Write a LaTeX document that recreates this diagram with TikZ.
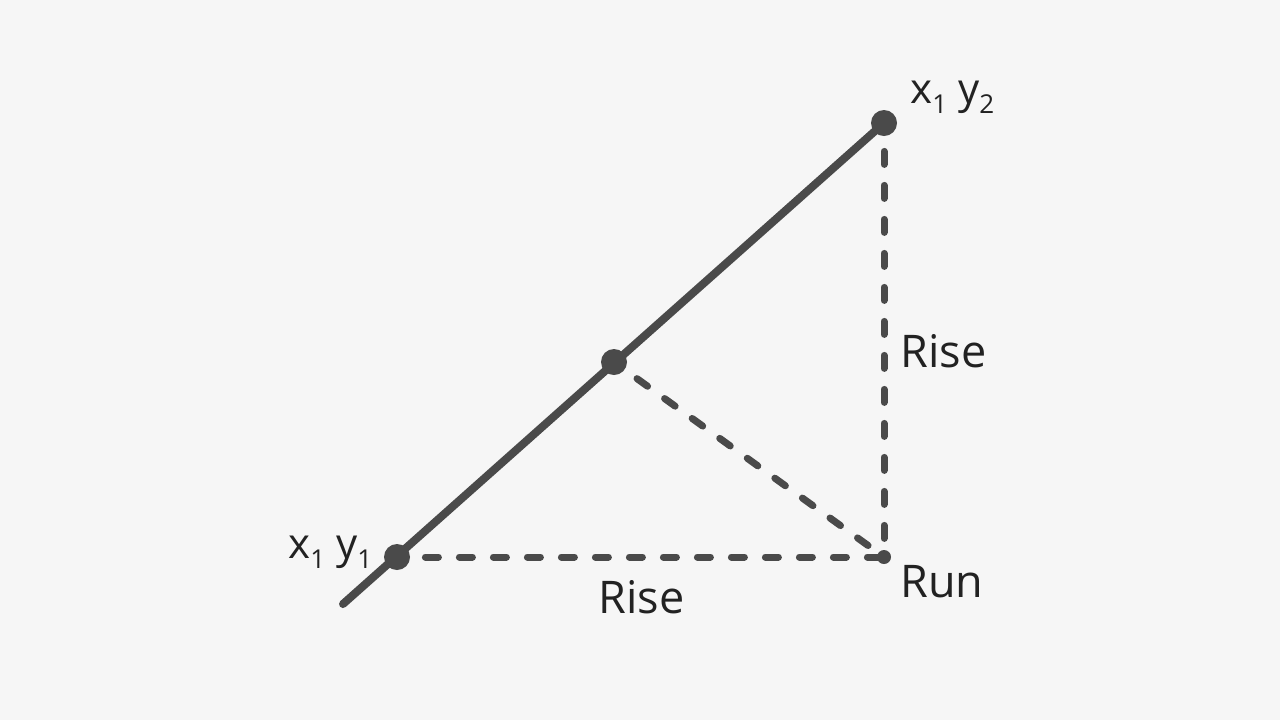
\documentclass[tikz,border=0pt]{standalone}
\usepackage{fontspec}
\setmainfont{Open Sans}
\usetikzlibrary{calc}
\definecolor{linegray}{HTML}{4A4A4A}
\definecolor{bggray}{HTML}{F6F6F6}
\definecolor{textdark}{HTML}{222222}
\newcommand{\lowidx}[1]{\raisebox{-5pt}{\fontsize{13}{15}\selectfont #1}}

\begin{document}
\begin{tikzpicture}[x=0.5pt,y=-0.5pt,
    dot/.style={circle,fill=linegray,inner sep=0pt,minimum size=13pt},
    guide/.style={linegray,line width=3.5pt,line cap=round,dash pattern=on 6.5pt off 10.5pt,dash phase=9.5pt},
    lbl/.style={text=textdark,font=\fontsize{21}{25}\selectfont,inner sep=0pt,anchor=base west}]
    % Background
    \fill[bggray] (0,0) rectangle (1280,720);
    \useasboundingbox (0,0) rectangle (1280,720);

    % Points
    \coordinate (start) at (343,604);
    \node[dot] (p1) at (397,557) {};
    \node[dot] (mid) at (614,362) {};
    \node[dot] (p2) at (884,123) {};
    \coordinate (corner) at (884,557);

    % Line
    \draw[linegray,line width=4pt,line cap=round] (start) -- (p2.center);

    % Dashed triangle
    \draw[guide] (p1) -- (corner);
    \draw[guide] (p2) -- (corner);
    \draw[guide] (mid) -- (corner);
    \fill[linegray] (corner) circle (7);

    % Labels
    \node[lbl] (lp1) at (288,558) {x\lowidx{1} y\lowidx{1}};
    \node[lbl] (lp2) at (910,103) {x\lowidx{1} y\lowidx{2}};
    \node[lbl,font=\fontsize{22.5}{27}\selectfont] (rise) at (900,367) {Rise};
    \node[lbl,font=\fontsize{22.5}{27}\selectfont] (run) at (900,597) {Run};
    \node[lbl,font=\fontsize{22.5}{27}\selectfont] (rise2) at (598,613) {Rise};

\end{tikzpicture}
\end{document}
